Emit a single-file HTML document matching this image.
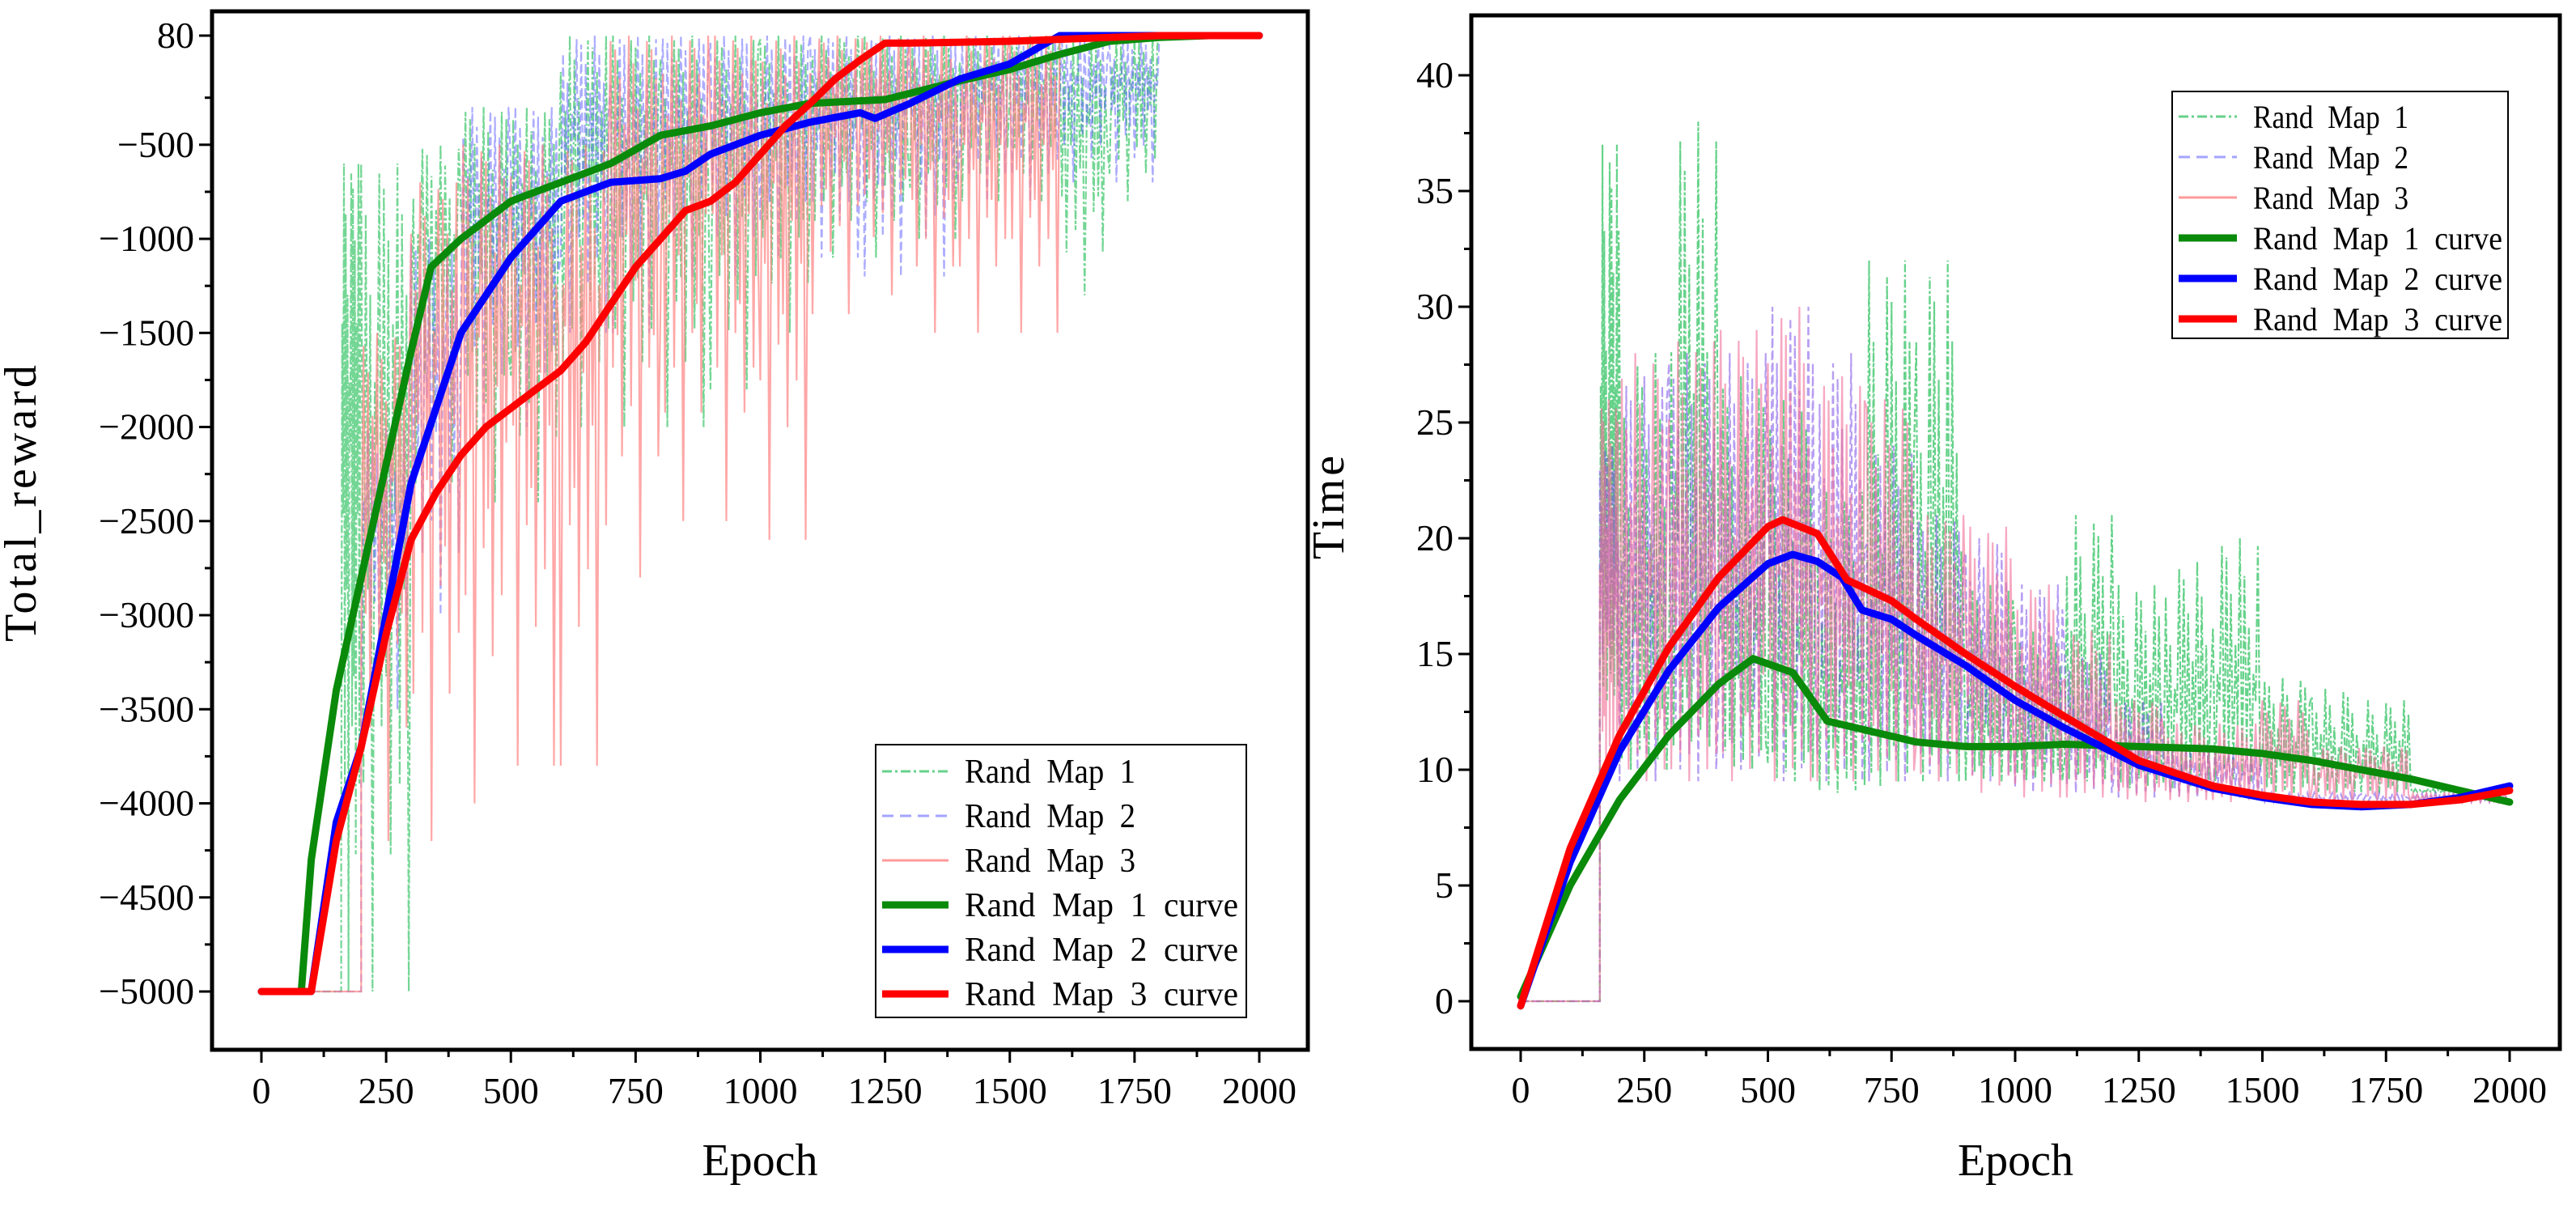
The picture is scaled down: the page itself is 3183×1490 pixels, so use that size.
<!DOCTYPE html>
<html><head><meta charset="utf-8">
<style>
html,body{margin:0;padding:0;background:#fff;}
svg{display:block;}
text{font-family:"Liberation Serif","Noto Serif CJK SC",serif;fill:#000;}
</style></head>
<body>
<svg id="chart" width="3183" height="1490" viewBox="0 0 3183 1490" xmlns="http://www.w3.org/2000/svg"></svg>
<script>
// ---------- DATA ----------
// Left chart: Total_reward
const curveEpochsL1 = [0,80,100,150,200,250,300,340,400,500,600,700,800,900,1000,1100,1250,1400,1500,1600,1700,1800,1900,2000];
const curveValsL1   = [-5000,-5000,-4300,-3400,-2800,-2200,-1600,-1150,-1000,-800,-700,-600,-450,-400,-330,-280,-260,-160,-100,-20,50,70,80,80];
const curveEpochsL2 = [0,100,150,200,250,300,350,400,500,600,700,800,850,900,1000,1100,1200,1230,1300,1400,1500,1560,1600,2000];
const curveValsL2   = [-5000,-5000,-4100,-3700,-3000,-2300,-1900,-1500,-1100,-800,-700,-680,-640,-550,-450,-380,-330,-360,-280,-150,-70,20,80,80];
const curveEpochsL3 = [0,100,150,200,250,300,350,400,450,500,550,600,650,700,750,800,850,900,950,1000,1050,1100,1150,1200,1250,1300,1500,1700,1800,2000];
const curveValsL3   = [-5000,-5000,-4200,-3700,-3100,-2600,-2350,-2150,-2000,-1900,-1800,-1700,-1550,-1350,-1150,-1000,-850,-800,-700,-550,-400,-280,-150,-50,40,40,50,70,80,80];
// noisy raw series as per-100-epoch-bin envelopes (min,max)
const binStarts = [0,100,200,300,400,500,600,700,800,900,1000,1100,1200,1300,1400,1500,1600,1700,1800,1900];
const rawL1Min = [-5000,-5000,-5000,-2300,-2400,-2400,-2000,-2000,-2000,-1800,-1500,-1100,-1100,-1000,-800,-800,-1300,-800,80,80];
const rawL1Max = [-5000,-600,-600,-500,-300,-300,80,80,80,80,80,80,80,80,80,80,80,80,80,80];
const rawL2Min = [-5000,-5000,-3500,-3000,-2000,-2000,-1500,-1500,-1200,-1200,-1100,-1100,-1200,-1200,-800,-800,-700,-700,80,80];
const rawL2Max = [-5000,-5000,-2000,-1000,-300,-300,80,80,80,80,80,80,80,80,80,80,80,80,80,80];
const rawL3Min = [-5000,-5000,-4200,-4200,-4000,-3800,-3800,-2800,-2500,-2500,-2600,-1400,-1300,-1500,-1500,-1500,80,80,80,80];
const rawL3Max = [-5000,-5000,-1500,-700,-500,-500,-500,80,80,80,80,80,80,80,80,80,80,80,80,80];
const yTicksL = [80,-500,-1000,-1500,-2000,-2500,-3000,-3500,-4000,-4500,-5000];
const xTicks = [0,250,500,750,1000,1250,1500,1750,2000];

// Right chart: Time
const curveEpochsR1 = [0,100,200,300,400,470,550,620,700,800,900,1000,1100,1250,1400,1500,1600,1700,1800,1900,2000];
const curveValsR1   = [0.2,5,8.7,11.5,13.7,14.8,14.2,12.1,11.7,11.2,11,11,11.1,11,10.9,10.7,10.4,10,9.6,9.1,8.6];
const curveEpochsR2 = [0,100,200,300,400,500,550,600,650,690,750,800,900,1000,1100,1250,1400,1500,1600,1700,1800,1900,2000];
const curveValsR2   = [-0.2,6,10.8,14.3,17,18.9,19.3,19,18.3,16.9,16.5,15.8,14.5,13,11.8,10.2,9.2,8.8,8.5,8.4,8.5,8.8,9.3];
const curveEpochsR3 = [0,100,200,300,400,500,530,600,660,750,800,900,1000,1100,1250,1400,1500,1600,1700,1800,1900,2000];
const curveValsR3   = [-0.2,6.6,11.5,15.3,18.3,20.5,20.8,20.2,18.2,17.3,16.5,15,13.6,12.3,10.4,9.3,8.9,8.6,8.5,8.5,8.7,9.1];
const rawR1Min = [0,13,10,11,10,9.5,9,9.3,9.5,9.5,9.5,9.5,9.2,9.2,9.5,9,9,9,9,9];
const rawR1Max = [0,37,28,38,27,26,22,32,32,18,16,21,18,19,20,14,13.5,13,9.2,9];
const rawR2Min = [0,15,9.5,9.5,10,9.5,9.5,9.5,9.5,9.5,9,9,8.8,8.8,8.8,8.6,8.6,8.6,8.6,8.6];
const rawR2Max = [0,24,27,28,28,30,28,24,21,20,18,15,13,11,11,9,9,9,9,9];
const rawR3Min = [0,10,9.5,9.5,9.5,9.5,9.5,9.5,9.5,9,8.8,8.8,8.6,8.6,8.6,8.6,8.6,8.6,8.6,8.6];
const rawR3Max = [0,26,28,28.5,29,30,27,26,21,20.5,18,16,13,12,12,13,11,11,9,9];
const yTicksR = [0,5,10,15,20,25,30,35,40];

// ---------- RENDER ----------
const NS="http://www.w3.org/2000/svg";
const svg=document.getElementById('chart');
function el(tag,attrs,parent){const e=document.createElementNS(NS,tag);for(const k in attrs)e.setAttribute(k,attrs[k]);(parent||svg).appendChild(e);return e;}
const pattern=[0.95,0.2,0.85,0.05,0.7,0.4,1,0.1,0.9,0.3,0.75,0,0.6,0.5,0.98,0.15];

function drawChart(cfg){
  const g=el('g',{});
  
  
  const X=v=>cfg.x0+(v-0)/(2000)*(cfg.x1-cfg.x0);
  const Y=v=>cfg.y0+(v-cfg.v0)/(cfg.v1-cfg.v0)*(cfg.y1-cfg.y0);
  cfg.raw.forEach(r=>{
    let pts=[];
    binStarts.forEach((b,i)=>{
      const mn=r.min[i], mx=r.max[i];
      if(b<r.start){ if(b+100<=r.start){pts.push([X(b),Y(r.pre)],[X(b+100),Y(r.pre)]);} else {pts.push([X(b),Y(r.pre)],[X(r.start),Y(r.pre)]);}
        if(b+100<=r.start) return; }
      const s=Math.max(b,r.start), n=22;
      for(let k=0;k<n;k++){
        const e=s+(b+100-s)*k/n;
        const f=pattern[(k+i*3+r.off)%pattern.length];
        const fb=r.bias?Math.pow(f,r.bias):f;
        pts.push([X(e),Y(mn+(mx-mn)*fb)]);
      }
    });
    const p=el('polyline',{points:pts.map(q=>q[0].toFixed(1)+','+q[1].toFixed(1)).join(' '),fill:'none',stroke:r.color,'stroke-width':2.2,'stroke-dasharray':r.dash||'none'},g);
    
    
  });
  cfg.curves.forEach(c=>{
    const p=el('polyline',{points:c.ex.map((e,i)=>X(e).toFixed(1)+','+Y(c.v[i]).toFixed(1)).join(' '),fill:'none',stroke:c.color,'stroke-width':9,'stroke-linejoin':'round','stroke-linecap':'round'},g);
    
    
  });
  const fr=el('rect',{x:cfg.fx0,y:cfg.fy0,width:cfg.fx1-cfg.fx0,height:cfg.fy1-cfg.fy0,fill:'none',stroke:'#000','stroke-width':5},g);
  
  
  xTicks.forEach((t,i)=>{
    el('line',{x1:X(t),x2:X(t),y1:cfg.fy1,y2:cfg.fy1+16,stroke:'#000','stroke-width':3},g);
    if(i<xTicks.length-1){const m=t+125;el('line',{x1:X(m),x2:X(m),y1:cfg.fy1,y2:cfg.fy1+9,stroke:'#000','stroke-width':3},g);}
    const tx=el('text',{x:X(t),y:cfg.fy1+66,'font-size':46,'text-anchor':'middle'},g);
    tx.textContent=t;
    
    
  });
  cfg.yt.forEach(t=>{
    el('line',{x1:cfg.fx0-16,x2:cfg.fx0,y1:Y(t),y2:Y(t),stroke:'#000','stroke-width':3},g);
    const ty=el('text',{x:cfg.fx0-22,y:Y(t)+15,'font-size':46,'text-anchor':'end'},g);
    ty.textContent=String(t).replace('-','\u2212');
    
    
  });
  cfg.minor.forEach(t=>{el('line',{x1:cfg.fx0-9,x2:cfg.fx0,y1:Y(t),y2:Y(t),stroke:'#000','stroke-width':3},g);});
  const xt=el('text',{x:(cfg.fx0+cfg.fx1)/2,y:1452,'font-size':56,'text-anchor':'middle'},g);
  xt.textContent='Epoch';
  
  
  const yt=el('text',{x:0,y:0,'font-size':56,'text-anchor':'middle',transform:`translate(${cfg.ytx},${cfg.yty}) rotate(-90)`,'letter-spacing':cfg.ls||0},g);
  yt.textContent=cfg.ytitle;
  
  
  const L=cfg.leg;
  const lg=el('g',{},g);
  
  
  el('rect',{x:L.x,y:L.y,width:L.w,height:L.h,fill:'#fff',stroke:'#000','stroke-width':2},lg);
  const items=[
    ['Rand Map 1','rgba(0,180,60,0.6)',3,'12,4,3,4',L.tw1],['Rand Map 2','rgba(90,90,255,0.55)',3,'14,8',L.tw1],['Rand Map 3','rgba(255,120,120,0.75)',3,'none',L.tw1],
    ['Rand Map 1 curve','#0a8a0a',9,'none',L.tw2],['Rand Map 2 curve','#0000ff',9,'none',L.tw2],['Rand Map 3 curve','#ff0000',9,'none',L.tw2]];
  items.forEach((it,i)=>{
    const yy=L.y+L.r0+i*L.dy;
    const e=el('g',{},lg);
    
    
    el('line',{x1:L.x+8,x2:L.x+L.sw,y1:yy,y2:yy,stroke:it[1],'stroke-width':it[2],'stroke-dasharray':it[3]},e);
    const t=el('text',{x:L.x+L.sw+20,y:yy+14,'font-size':L.fs,textLength:it[4],lengthAdjust:'spacingAndGlyphs'},e);
    t.textContent=it[0].replace(/ /g,'\u00a0\u00a0');
  });
}

const minorL=[];for(let v=-4750;v<=-250;v+=500)minorL.push(v);
const minorR=[];for(let v=2.5;v<=40;v+=5)minorR.push(v);

drawChart({name:'reward-chart',x0:323,x1:1556,v0:80,v1:-5000,y0:44,y1:1225,fx0:262,fx1:1616,fy0:14,fy1:1297,
  yt:yTicksL,minor:minorL,ytitle:'Total_reward',ytx:44,yty:620,ls:4,
  raw:[{label:'raw-map1',color:'rgba(0,180,60,0.55)',min:rawL1Min,max:rawL1Max,start:160,pre:-5000,off:0,dash:'10,3,3,3',bias:0.6},
       {label:'raw-map2',color:'rgba(90,90,255,0.5)',min:rawL2Min,max:rawL2Max,start:200,pre:-5000,off:5,dash:'10,5',bias:0.6},
       {label:'raw-map3',color:'rgba(255,130,130,0.7)',min:rawL3Min,max:rawL3Max,start:200,pre:-5000,off:9,bias:0.5}],
  curves:[{label:'map1-curve',color:'#0a8a0a',ex:curveEpochsL1,v:curveValsL1},
          {label:'map2-curve',color:'#0000ff',ex:curveEpochsL2,v:curveValsL2},
          {label:'map3-curve',color:'#ff0000',ex:curveEpochsL3,v:curveValsL3}],
  leg:{x:1082,y:920,w:458,h:337,r0:33,dy:55,sw:90,fs:42,tw1:211,tw2:338}});

drawChart({name:'time-chart',x0:1879,x1:3101,v0:0,v1:40,y0:1237,y1:93,fx0:1818,fx1:3163,fy0:19,fy1:1296,
  yt:yTicksR,minor:minorR,ytitle:'Time',ytx:1660,yty:625,ls:4,
  raw:[{label:'raw-map1',color:'rgba(0,180,60,0.6)',min:rawR1Min,max:rawR1Max,start:160,pre:0,off:0,dash:'10,3,3,3',bias:1.6},
       {label:'raw-map2',color:'rgba(110,60,230,0.5)',min:rawR2Min,max:rawR2Max,start:160,pre:0,off:5,dash:'10,5',bias:1.2},
       {label:'raw-map3',color:'rgba(240,110,150,0.6)',min:rawR3Min,max:rawR3Max,start:160,pre:0,off:9,bias:1.2}],
  curves:[{label:'map1-curve',color:'#0a8a0a',ex:curveEpochsR1,v:curveValsR1},
          {label:'map2-curve',color:'#0000ff',ex:curveEpochsR2,v:curveValsR2},
          {label:'map3-curve',color:'#ff0000',ex:curveEpochsR3,v:curveValsR3}],
  leg:{x:2684,y:113,w:415,h:305,r0:31,dy:50,sw:80,fs:40,tw1:192,tw2:308}});
</script>
</body></html>
